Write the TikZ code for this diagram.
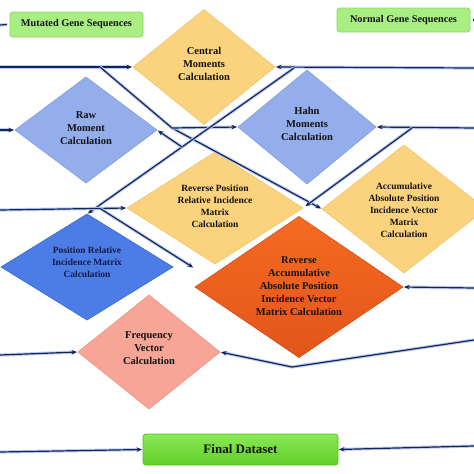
\documentclass[tikz,border=0pt]{standalone}
\usepackage{fontspec}
\setmainfont{Liberation Serif}
\usetikzlibrary{shapes.geometric,arrows.meta}
\definecolor{gold}{HTML}{FBD27D}
\definecolor{golde}{HTML}{F2C56C}
\definecolor{lblue}{HTML}{93AEEB}
\definecolor{lbluee}{HTML}{819DE2}
\definecolor{rblue}{HTML}{4C7CE6}
\definecolor{rbluee}{HTML}{3C6AD8}
\definecolor{orngt}{HTML}{F66A22}
\definecolor{orngb}{HTML}{E2551A}
\definecolor{ornge}{HTML}{D24E16}
\definecolor{pinkf}{HTML}{F7A596}
\definecolor{pinke}{HTML}{EE9383}
\definecolor{lgreen}{HTML}{A8EE82}
\definecolor{lgreene}{HTML}{86D862}
\definecolor{fgreen}{HTML}{6CE42C}
\definecolor{fgreene}{HTML}{4FC61C}
\definecolor{navy}{HTML}{14245A}
\definecolor{halo}{HTML}{BCCEF4}
\definecolor{ink}{HTML}{121212}
\begin{document}
\begin{tikzpicture}[x=1pt,y=-1pt,
  dia/.style={diamond, inner sep=0pt, outer sep=0pt, line width=0.6pt},
  txt/.style={align=center, text=ink, font=\bfseries\fontsize{10.5}{13}\selectfont},
  stxt/.style={align=center, text=ink, font=\bfseries\fontsize{9.5}{12}\selectfont},
  gbox/.style={rectangle, rounded corners=3pt, inner sep=0pt, outer sep=0pt, line width=0.8pt, text=ink},
  conn/.style={draw=navy, line width=1.2pt, preaction={draw=halo, line width=3.2pt}},
  arr/.style={conn, -{Stealth[length=5.5pt,width=4.5pt]}, shorten >=1pt}]
\clip (0,0) rectangle (474,474);
\fill[white] (0,0) rectangle (474,474);

% boxes
\node[gbox, fill=lgreen, draw=lgreene, minimum width=133pt, minimum height=25pt,
  font=\bfseries\fontsize{10.3}{12}\selectfont] (mg) at (76.5,24.5) {Mutated Gene Sequences};
\node[gbox, fill=lgreen, draw=lgreene, minimum width=133pt, minimum height=24pt,
  font=\bfseries\fontsize{10.3}{12}\selectfont] (ng) at (403.5,20) {Normal Gene Sequences};
\node[gbox, top color=fgreen!80!white, bottom color=fgreen!90!black, draw=fgreene, minimum width=195pt, minimum height=31pt,
  font=\bfseries\fontsize{13}{15}\selectfont] (fd) at (240.5,449.5) {Final Dataset};

% diamonds
\node[dia, fill=gold, draw=golde, minimum width=142pt, minimum height=115pt] (cm) at (204,67) {};
\node[txt] (cmt) at (204,63.5) {Central\\Moments\\Calculation};

\node[dia, fill=lblue, draw=lbluee, minimum width=142pt, minimum height=106pt] (rm) at (86,130) {};
\node[txt] (rmt) at (86,128.5) {Raw\\Moment\\Calculation};

\node[dia, fill=lblue, draw=lbluee, minimum width=138pt, minimum height=114pt] (hm) at (307,127) {};
\node[txt] (hmt) at (307,123.5) {Hahn\\Moments\\Calculation};

\node[dia, fill=gold, draw=golde, minimum width=176pt, minimum height=112pt] (rp) at (215,208) {};
\node[stxt] (rpt) at (215,206) {Reverse Position\\Relative Incidence\\Matrix\\Calculation};

\node[dia, fill=gold, draw=golde, minimum width=164pt, minimum height=128pt] (acc) at (404,209) {};
\node[stxt] (acct) at (404,210.5) {Accumulative\\Absolute Position\\Incidence Vector\\Matrix\\Calculation};

\node[dia, fill=rblue, draw=rbluee, minimum width=172pt, minimum height=106pt] (pr) at (87,267) {};
\node[stxt, text=navy!80!black] (prt) at (87,262.5) {Position Relative\\Incidence Matrix\\Calculation};

\node[dia, top color=orngt, bottom color=orngb, draw=ornge, minimum width=208pt, minimum height=141pt] (or) at (299,287) {};
\node[txt] (ort) at (299,286.5) {Reverse\\Accumulative\\Absolute Position\\Incidence Vector\\Matrix Calculation};

\node[dia, fill=pinkf, draw=pinke, minimum width=142pt, minimum height=114pt] (fq) at (149,352) {};
\node[txt] (fqt) at (149,348) {Frequency\\Vector\\Calculation};

% connector points
\coordinate (Lin1) at (0,67);
\coordinate (j1) at (100,67);
\coordinate (j1b) at (172,128);
\coordinate (Rin1) at (474,68);
\coordinate (j2) at (294,68);
\coordinate (j3) at (182,147);
\coordinate (Lin2) at (0,130);
\coordinate (Rin2) at (474,128);
\coordinate (j4) at (412,128);
\coordinate (Lin3) at (0,210);
\coordinate (j5) at (100,208.4);
\coordinate (t5) at (194,268);
\coordinate (Lin4) at (0,355);
\coordinate (Rin3) at (474,288);
\coordinate (Rin4) at (474,340);
\coordinate (v) at (292,367);
\coordinate (Lin5) at (0,452);
\coordinate (Rin5) at (474,446);
\coordinate (tkL) at (0,25);
\coordinate (tkR) at (474,20);

% connectors
\draw[conn] (tkL) -- ([xshift=-3pt]mg.west);
\draw[conn] (tkR) -- ([xshift=3pt]ng.east);
\draw[arr] (Lin1) -- (cm.west);
\draw[arr] (Rin1) -- (cm.east);
\draw[arr] (j1) -- (j1b) -- (acc.west);
\draw[arr] (j1b) -- (hm.west);
\draw[arr] (j2) -- (pr.north);
\draw[arr] (j3) -- (rm.east);
\draw[arr] (Lin2) -- (rm.west);
\draw[arr] (Rin2) -- (hm.east);
\draw[arr, shorten >=3pt] (j4) -- (rp.east);
\draw[arr] (Lin3) -- (rp.west);
\draw[arr] (j5) -- (t5);
\draw[arr] (Lin4) -- (fq.west);
\draw[arr] (Rin3) -- (or.east);
\draw[arr] (Rin4) -- (v) -- (fq.east);
\draw[arr] (Lin5) -- (fd.west);
\draw[arr] (Rin5) -- (fd.east);
\end{tikzpicture}
\end{document}
